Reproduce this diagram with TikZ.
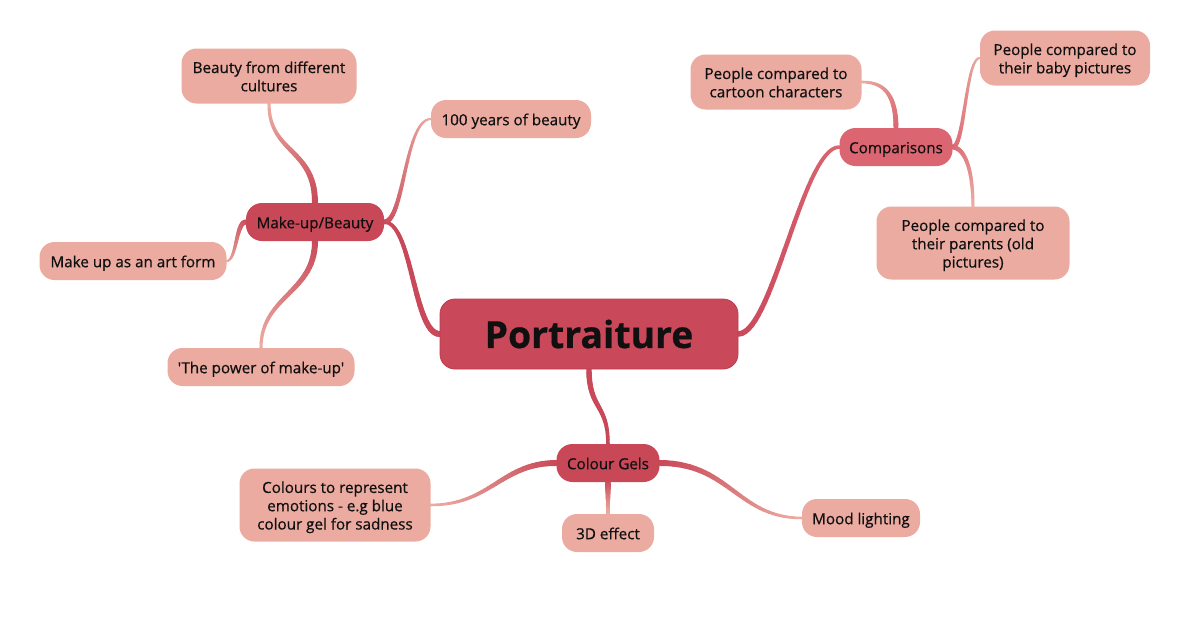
\documentclass[tikz,border=0pt]{standalone}
\usepackage{fontspec}
\setmainfont{Open Sans}[Ligatures=TeXOff, RawFeature={embolden=0.6}]
\usetikzlibrary{calc}
\definecolor{rootfill}{HTML}{C9485A}
\definecolor{rootdraw}{HTML}{BE3A4E}
\definecolor{mbfill}{HTML}{C84858}
\definecolor{compfill}{HTML}{DB6570}
\definecolor{gelfill}{HTML}{C94858}
\definecolor{leaffill}{HTML}{ECABA1}
\definecolor{txt}{HTML}{101010}
\pgfdeclarelayer{bg}
\pgfsetlayers{bg,main}
\newcommand\mytopstrut{\rule{0pt}{16.4pt}}
\newcommand\mybotstrut{\rule[-4pt]{0pt}{4pt}}
\tikzset{
  rootbox/.style={fill=rootfill, draw=rootdraw, line width=0.8pt, rounded corners=15pt,
    minimum width=298pt, minimum height=70pt, inner sep=0pt,
    font=\fontsize{37.3}{40}\selectfont\bfseries, text=txt},
  midbox/.style={rounded corners=16pt, minimum height=38pt, inner sep=0pt,
    font=\fontsize{15.2}{18.3}\selectfont, text=txt,
    execute at begin node=\mytopstrut, execute at end node=\mybotstrut},
  leafbox/.style={fill=leaffill, rounded corners=15pt, minimum height=38pt, inner sep=0pt,
    align=center, font=\fontsize{15.2}{18.3}\selectfont, text=txt,
    execute at begin node=\mytopstrut, execute at end node=\mybotstrut}
}
\newcommand\branch[8]{%
  \coordinate (Q0) at (#1);
  \coordinate (Q1) at ($(#1)+#2$);
  \coordinate (Q2) at ($(#4)+#3$);
  \coordinate (Q3) at (#4);
  \foreach \i in {0,...,29} {
    \pgfmathsetmacro\ta{\i/30}
    \pgfmathsetmacro\tb{(\i+1)/30}
    \pgfmathsetmacro\aa{(1-\ta)^3}
    \pgfmathsetmacro\ab{3*(1-\ta)^2*\ta}
    \pgfmathsetmacro\ac{3*(1-\ta)*\ta^2}
    \pgfmathsetmacro\ad{\ta^3}
    \pgfmathsetmacro\ba{(1-\tb)^3}
    \pgfmathsetmacro\bb{3*(1-\tb)^2*\tb}
    \pgfmathsetmacro\bc{3*(1-\tb)*\tb^2}
    \pgfmathsetmacro\bd{\tb^3}
    \pgfmathsetmacro\ww{#5+(#6-#5)*(\ta+\tb)/2}
    \pgfmathtruncatemacro\pc{100*(1-(\ta+\tb)/2)}
    \draw[line width=\ww pt, line cap=round, color=#7!\pc!#8]
      ($\aa*(Q0)+\ab*(Q1)+\ac*(Q2)+\ad*(Q3)$) -- ($\ba*(Q0)+\bb*(Q1)+\bc*(Q2)+\bd*(Q3)$);
  }%
}
\begin{document}
\begin{tikzpicture}[x=1pt,y=-1pt]
\useasboundingbox (0,0) rectangle (1200,630);
% nodes
\node[rootbox] (port) at (589,334) {Portraiture};
\node[midbox, fill=mbfill, minimum width=138pt] (mb) at (315,222) {Make-up/Beauty};
\node[midbox, fill=compfill, minimum width=113pt] (comp) at (896,147) {Comparisons};
\node[midbox, fill=gelfill, minimum width=103pt] (gels) at (608,463) {Colour Gels};
\node[leafbox, minimum width=175pt, minimum height=55pt] (beauty) at (269,76) {\mytopstrut Beauty from different\\cultures\mybotstrut};
\node[leafbox, minimum width=160pt] (hundred) at (511,119) {100 years of beauty};
\node[leafbox, minimum width=187pt] (art) at (133,261) {Make up as an art form};
\node[leafbox, minimum width=187pt] (power) at (261,367) {'The power of make-up'};
\node[leafbox, minimum width=171pt, minimum height=55pt] (cartoon) at (776,82) {\mytopstrut People compared to\\cartoon characters\mybotstrut};
\node[leafbox, minimum width=170pt, minimum height=55pt] (baby) at (1065,58) {\mytopstrut People compared to\\their baby pictures\mybotstrut};
\node[leafbox, minimum width=193pt, minimum height=73pt] (parents) at (973,243) {\mytopstrut People compared to\\their parents (old\\pictures)\mybotstrut};
\node[leafbox, minimum width=191pt, minimum height=73pt] (colours) at (335,505) {\mytopstrut Colours to represent\\emotions - e.g blue\\colour gel for sadness\mybotstrut};
\node[leafbox, minimum width=92pt] (threeD) at (608,533) {3D effect};
\node[leafbox, minimum width=118pt] (mood) at (861,518) {Mood lighting};
% connectors
\begin{pgfonlayer}{bg}
\fill[white] (0,0) rectangle (1200,630);
\branch{port.west}{(-26,0)}{(28,0)}{mb.east}{6}{3.5}{rootfill}{mbfill}
\branch{port.east}{(34,0)}{(-36,0)}{comp.west}{5.5}{3.5}{rootfill}{compfill}
\branch{port.south}{(0,40)}{(0,-40)}{gels.north}{5.5}{3.5}{rootfill}{gelfill}
\branch{mb.north}{(0,-55)}{(0,50)}{beauty.south}{6}{3}{mbfill}{leaffill}
\branch{mb.east}{(20,0)}{(-26,0)}{hundred.west}{5}{2}{mbfill}{leaffill}
\branch{mb.west}{(-10,0)}{(10,0)}{art.east}{5}{2}{mbfill}{leaffill}
\branch{mb.south}{(0,52)}{(0,-52)}{power.north}{6}{3}{mbfill}{leaffill}
\branch{comp.north}{(0,-36)}{(20,0)}{cartoon.east}{5}{2.5}{compfill}{leaffill}
\branch{comp.east}{(12,0)}{(-14,0)}{baby.west}{4.5}{2}{compfill}{leaffill}
\branch{comp.east}{(14,2)}{(0,-32)}{parents.north}{4.5}{3}{compfill}{leaffill}
\branch{gels.west}{(-55,0)}{(60,0)}{colours.east}{6}{2.5}{gelfill}{leaffill}
\branch{gels.south}{(0,12)}{(0,-12)}{threeD.north}{5.5}{3.5}{gelfill}{leaffill}
\branch{gels.east}{(70,0)}{(-64,0)}{mood.west}{6}{2.5}{gelfill}{leaffill}
\end{pgfonlayer}
\end{tikzpicture}
\end{document}
